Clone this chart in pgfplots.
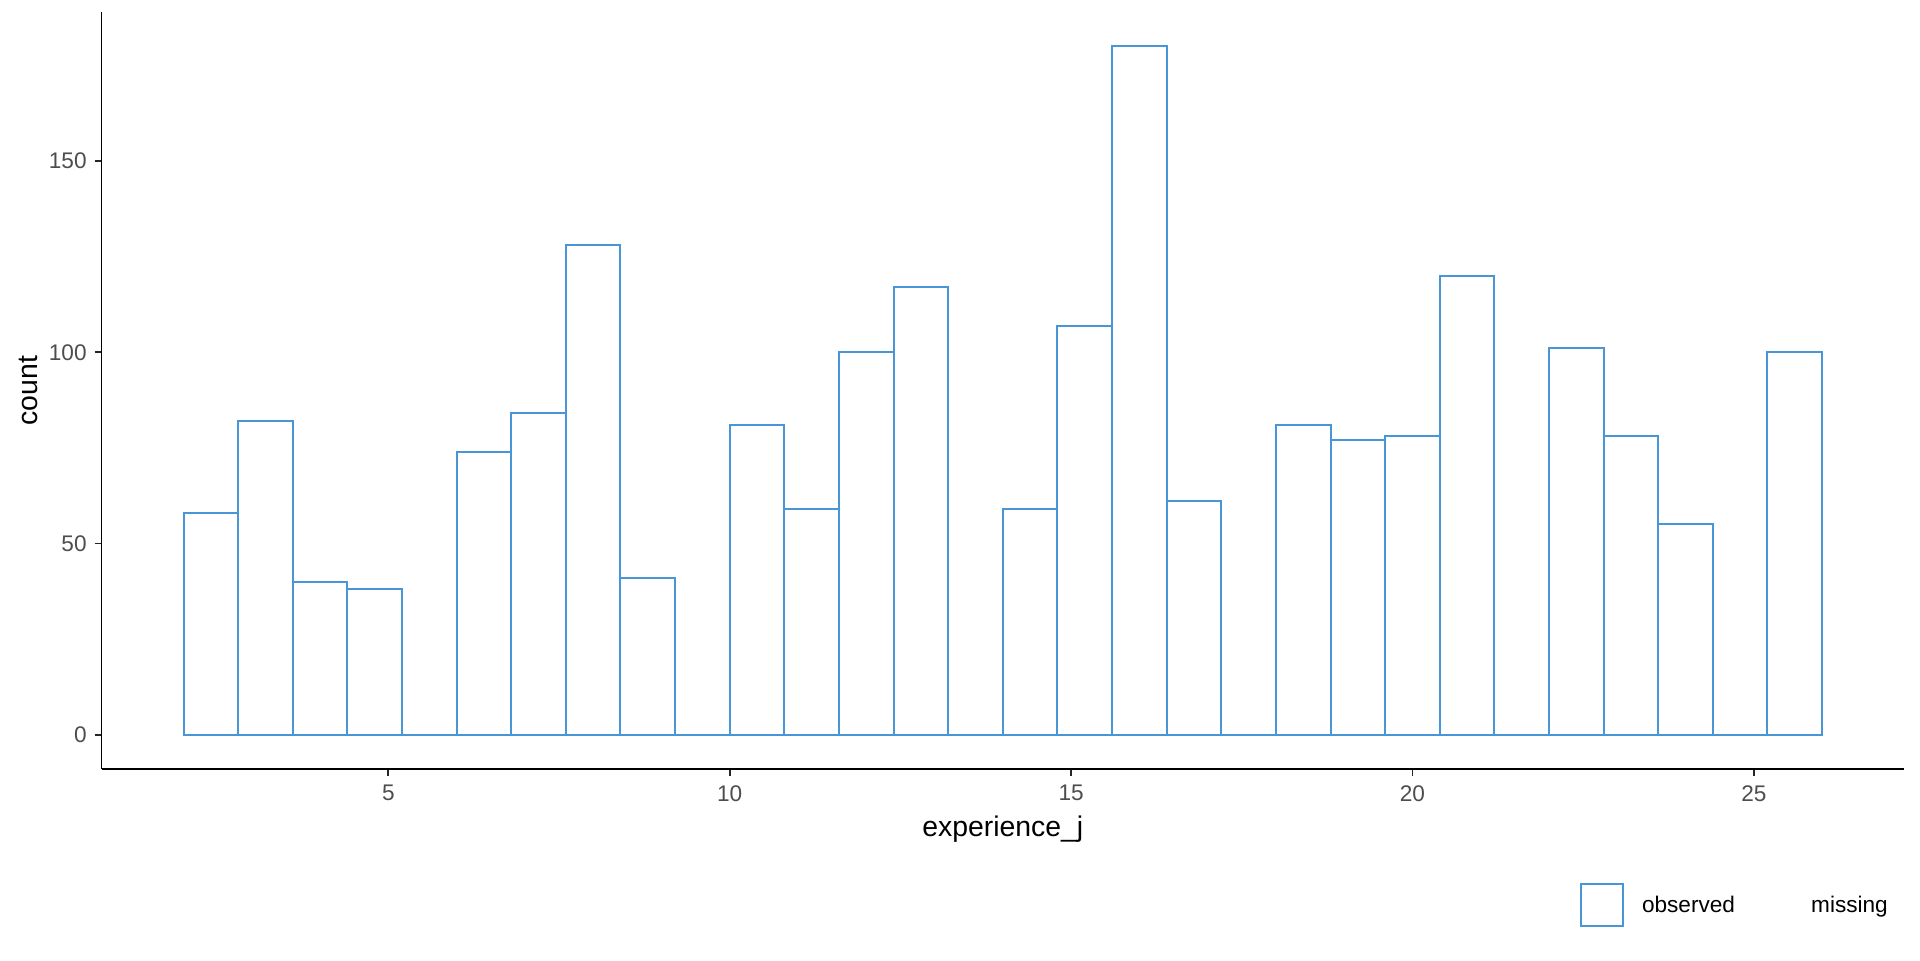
\documentclass[border=0pt]{standalone}
\usepackage{fontspec}
\setmainfont{Liberation Sans}
\usepackage{pgfplots}
\pgfplotsset{compat=1.18}
\definecolor{barblue}{RGB}{72,150,215}
\definecolor{tickgray}{RGB}{77,77,77}
\begin{document}
\begin{tikzpicture}
\begin{axis}[
  at={(0pt,0pt)}, anchor=south west,
  scale only axis,
  width=901.2pt, height=378.5pt,
  xmin=0.8, xmax=27.2, ymin=-9, ymax=189,
  axis x line*=bottom, axis y line*=left,
  axis line style={-, line width=0.9pt, black},
  xtick={5,10,15,20,25}, ytick={0,50,100,150},
  tick align=outside, major tick length=3.5pt,
  tick style={line width=0.9pt, color=black!85},
  /pgf/number format/assume math mode=true,
  ticklabel style={font=\fontsize{11.3}{13}\selectfont, text=tickgray, inner sep=0pt},
  xticklabel shift=4.5pt,
  yticklabel shift=3.8pt,
  xlabel={experience\_j}, ylabel={count},
  every axis x label/.style={at={(axis description cs:0.5,-0.0793)}, anchor=center, font=\fontsize{14.2}{16}\selectfont, text=black},
  every axis y label/.style={at={(axis description cs:-0.0408,0.5)}, anchor=center, rotate=90, font=\fontsize{14.2}{16}\selectfont, text=black},
  legend columns=2,
  legend cell align=left,
  legend style={draw=none, fill=none, inner sep=0pt, outer sep=0pt,
    at={(rel axis cs:0.991,-0.1803)}, anchor=east,
    font=\fontsize{11.3}{13}\selectfont,
    nodes={inner sep=0pt},
    /tikz/every odd column/.style={column sep=8.8pt},
    /tikz/every even column/.style={column sep=8.3pt}},
]
\addplot[ybar, bar width=0.8, bar shift=0pt, draw=barblue, fill=none, line width=1pt, forget plot]
coordinates {
(2.4,58) (3.2,82) (4.0,40) (4.8,38) (5.6,0)
(6.4,74) (7.2,84) (8.0,128) (8.8,41) (9.6,0)
(10.4,81) (11.2,59) (12.0,100) (12.8,117) (13.6,0)
(14.4,59) (15.2,107) (16.0,180) (16.8,61) (17.6,0)
(18.4,81) (19.2,77) (20.0,78) (20.8,120) (21.6,0)
(22.4,101) (23.2,78) (24.0,55) (24.8,0) (25.6,100)
};
\addlegendimage{legend image code/.code={\draw[draw=barblue, line width=1pt] (0pt,-10.5pt) rectangle (21pt,10.5pt);}}
\addlegendentry{observed}
\addlegendimage{draw=none, fill=none, legend image code/.code={\path[draw=none, fill=none] (0pt,-10.5pt) rectangle (21pt,10.5pt);}}
\addlegendentry{missing}
\end{axis}
\pgfresetboundingbox
\path[use as bounding box] (-50.8pt,-95.5pt) rectangle (909.2pt,384.5pt);
\end{tikzpicture}
\end{document}
